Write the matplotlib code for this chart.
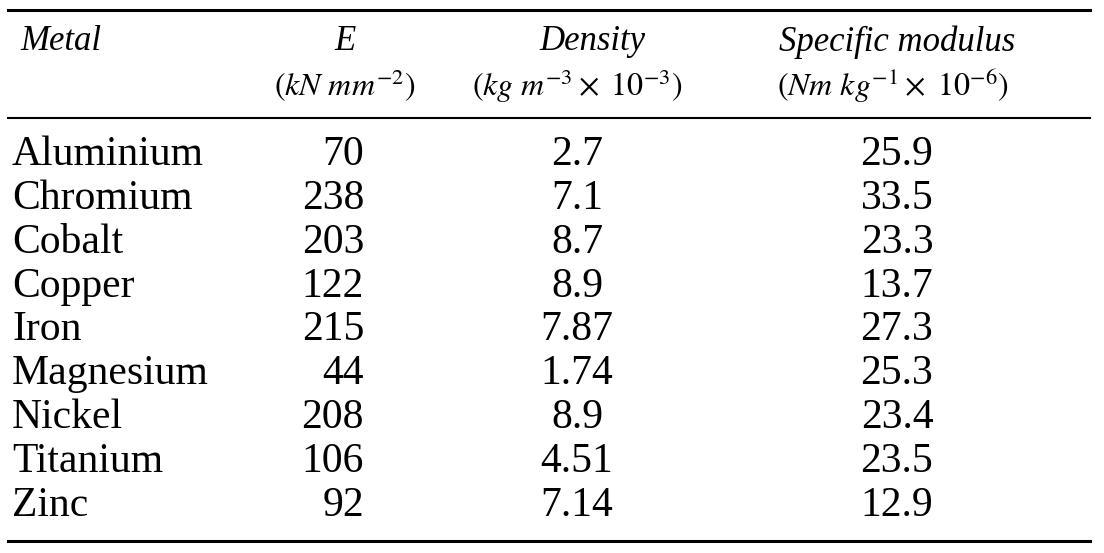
import matplotlib.pyplot as plt

plt.rcParams['font.family'] = 'Liberation Serif'
plt.rcParams['mathtext.fontset'] = 'stix'

metals = ['Aluminium', 'Chromium', 'Cobalt', 'Copper', 'Iron',
          'Magnesium', 'Nickel', 'Titanium', 'Zinc']
modulus = ['70', '238', '203', '122', '215', '44', '208', '106', '92']
density = ['2.7', '7.1', '8.7', '8.9', '7.87', '1.74', '8.9', '4.51', '7.14']
specific = ['25.9', '33.5', '23.3', '13.7', '27.3', '25.3', '23.4', '23.5', '12.9']

W, H = 1104, 553
fig = plt.figure(figsize=(W / 100, H / 100), dpi=100)
ax = fig.add_axes([0, 0, 1, 1])
ax.set_xlim(0, W)
ax.set_ylim(H, 0)
ax.axis('off')

# rules
ax.plot([8, 1090], [10, 10], color='black', lw=2.2)
ax.plot([8, 1090], [118, 118], color='black', lw=1.5)
ax.plot([8, 1090], [541, 541], color='black', lw=2.2)

# header
hs = 25
ax.text(20, 42, 'Metal', style='italic', fontsize=hs, va='center', ha='left')
ax.text(345, 42, 'E', style='italic', fontsize=hs, va='center', ha='center')
ax.text(415, 86, r'$(kN\ mm^{-2})$', fontsize=hs - 2, va='center', ha='right')
ax.text(592, 42, 'Density', style='italic', fontsize=hs, va='center', ha='center')
ax.text(577, 86, r'$(kg\ m^{-3}\times\ 10^{-3})$', fontsize=hs - 2, va='center', ha='center')
ax.text(897, 42, 'Specific modulus', style='italic', fontsize=hs, va='center', ha='center')
ax.text(893, 86, r'$(Nm\ kg^{-1}\times\ 10^{-6})$', fontsize=hs - 2, va='center', ha='center')

# body
fs = 30
y0, dy = 155, 43.8
for i in range(len(metals)):
    y = y0 + i * dy
    ax.text(12, y, metals[i], fontsize=fs, va='center', ha='left')
    ax.text(364, y, modulus[i], fontsize=fs, va='center', ha='right')
    ax.text(577, y, density[i], fontsize=fs, va='center', ha='center')
    ax.text(897, y, specific[i], fontsize=fs, va='center', ha='center')

fig.savefig('out.png', dpi=100)
